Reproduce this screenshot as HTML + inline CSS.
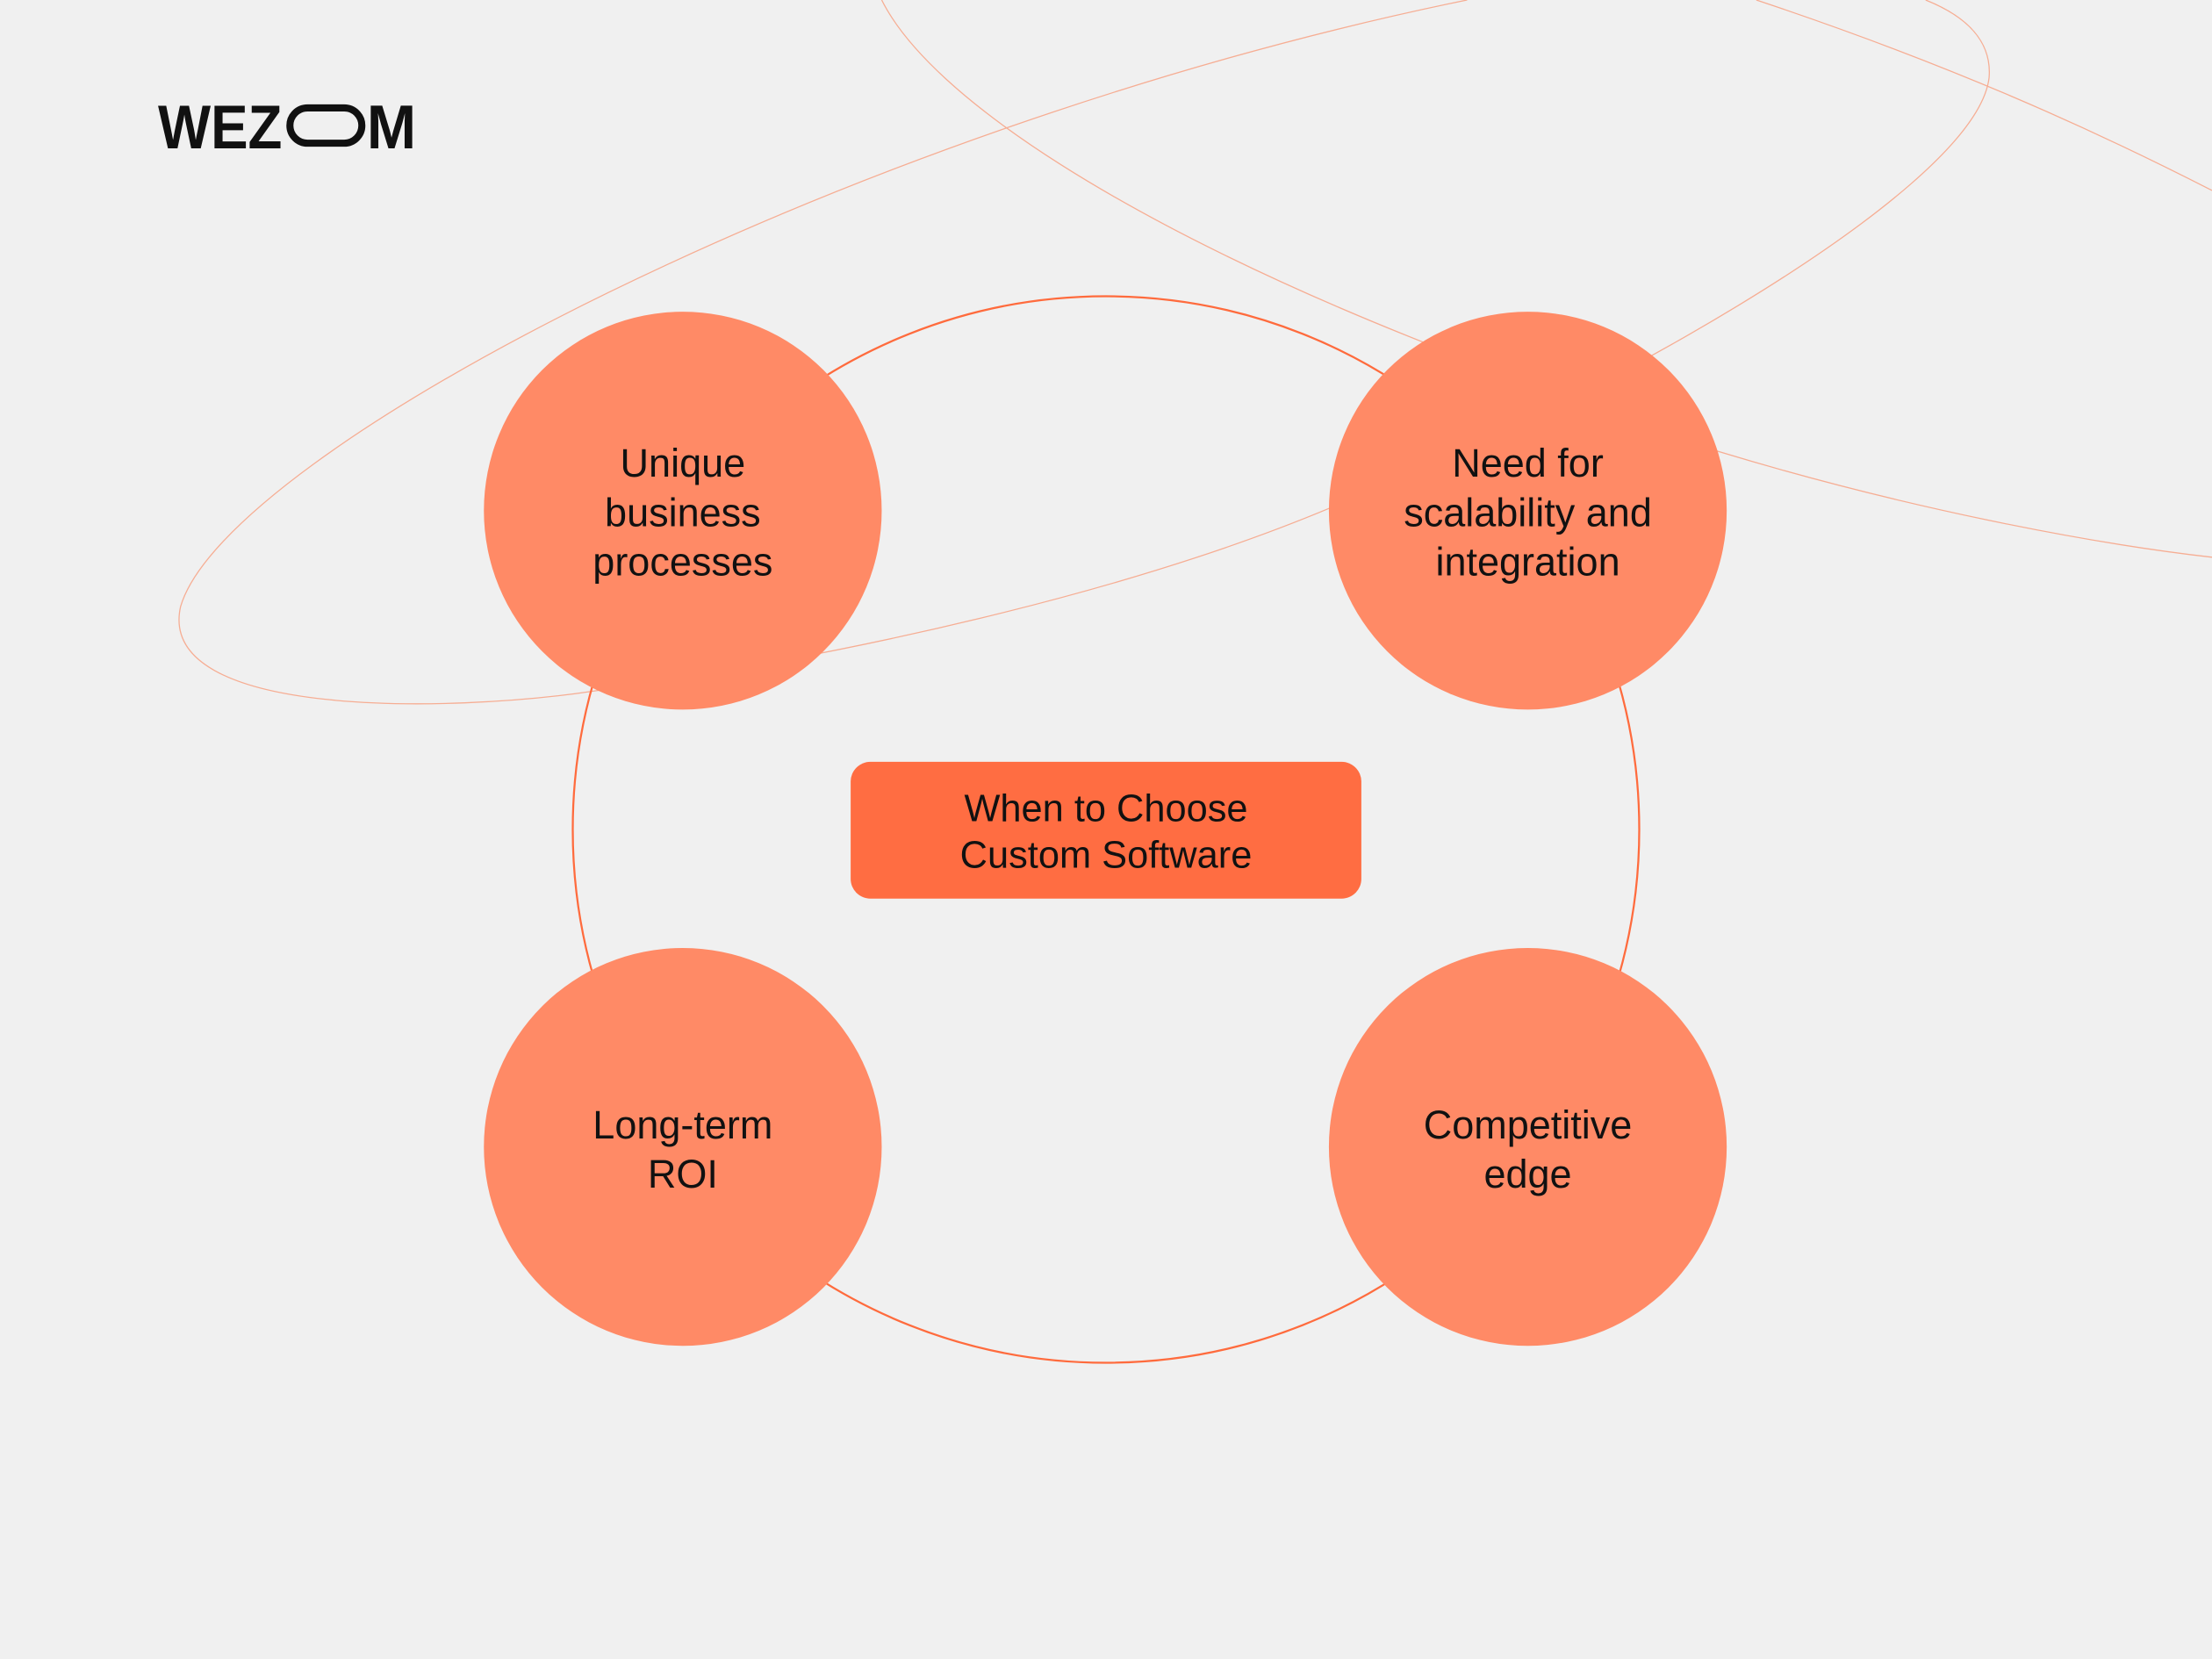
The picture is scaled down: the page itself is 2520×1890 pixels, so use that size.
<!DOCTYPE html>
<html><head><meta charset="utf-8"><style>
html,body{margin:0;padding:0;background:#f0f0f0;}
svg{display:block;}
text{font-family:"Liberation Sans",Arial,sans-serif;}
</style></head><body>
<svg width="2520" height="1890" viewBox="0 0 1568 1176" xmlns="http://www.w3.org/2000/svg">
<rect width="1568" height="1176" fill="#f0f0f0"/>
<g fill="none" stroke="#f6ad93" stroke-width="0.8">
<path d="M1040,0 C600,90 160,320 128,430 C110,510 320,505 420,490 C600,465 800,420 943,360 C1100,300 1400,140 1410,55 C1412,30 1395,12 1365,0"/>
<path d="M625,0 C660,70 800,160 1010,243 C1100,280 1160,300 1218,320 C1350,360 1480,385 1568,395"/>
<path d="M1245,0 C1380,45 1480,90 1568,135"/>
</g>
<circle cx="784" cy="588" r="378" fill="none" stroke="#ff6b3d" stroke-width="1.4"/>
<g fill="#ff8a66">
<circle cx="484" cy="362" r="141"/>
<circle cx="1083" cy="362" r="141"/>
<circle cx="484" cy="813" r="141"/>
<circle cx="1083" cy="813" r="141"/>
</g>
<rect x="603" y="540" width="362" height="97" rx="14" fill="#ff6d42"/>
<g font-size="28" fill="#111" text-anchor="middle">
<text x="484" y="338">Unique</text>
<text x="484" y="373">business</text>
<text x="484" y="408">processes</text>
<text x="1083" y="338">Need for</text>
<text x="1083" y="373">scalability and</text>
<text x="1083" y="408">integration</text>
<text x="484" y="807">Long-term</text>
<text x="484" y="842">ROI</text>
<text x="1083" y="807">Competitive</text>
<text x="1083" y="842">edge</text>
</g>
<g font-size="27" fill="#111" text-anchor="middle">
<text x="784" y="582">When to Choose</text>
<text x="784" y="615">Custom Software</text>
</g>
<g font-weight="bold" font-size="44" fill="#111">
<text x="112" y="105" textLength="88" lengthAdjust="spacingAndGlyphs">WEZ</text>
<text x="260" y="105" textLength="35" lengthAdjust="spacingAndGlyphs">M</text>
</g>
<rect x="205.5" y="76.5" width="51" height="25" rx="12.5" fill="none" stroke="#111" stroke-width="5"/>
</svg>
</body></html>
